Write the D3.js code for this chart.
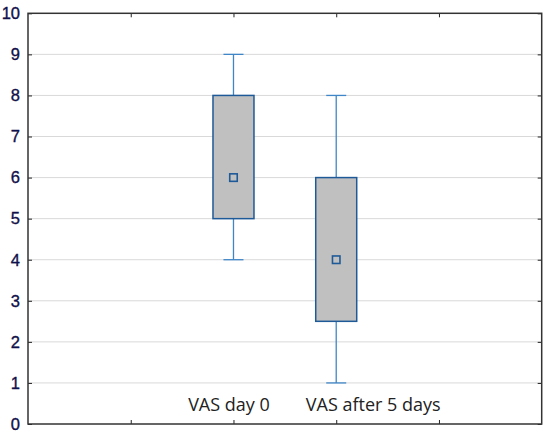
<!DOCTYPE html>
<html><head><meta charset="utf-8">
<script src="https://cdn.jsdelivr.net/npm/d3@7"></script>
<style>body{margin:0;background:#fff}svg{display:block}</style>
</head><body>
<svg id="c" width="550" height="438"></svg>
<script>
const categories = ["VAS day 0", "VAS after 5 days"];
const whiskerLow = [4, 1];
const boxLow = [5, 2.5];
const medians = [6, 4];
const boxHigh = [8, 6];
const whiskerHigh = [9, 8];
const yTicks = [0,1,2,3,4,5,6,7,8,9,10];
const xTickSlots = [1,2,3,4];
const categorySlots = [2,3];

const svg = d3.select("#c");
const W = 550, H = 438;
const m = {left: 28, right: 8.3, top: 13.3, bottom: 14};
const x = d3.scaleLinear().domain([0,5]).range([m.left, W - m.right]);
const y = d3.scaleLinear().domain([0,10]).range([H - m.bottom, m.top]);

// gridlines
svg.append("g").selectAll("line").data(yTicks.slice(1, -1)).join("line")
  .attr("x1", x(0)).attr("x2", x(5))
  .attr("y1", d => y(d)).attr("y2", d => y(d))
  .attr("stroke", "#d9d9d9").attr("stroke-width", 1);

// axes (ticks inside)
const axL = svg.append("g").attr("transform", `translate(${x(0)},0)`)
  .call(d3.axisLeft(y).tickValues(yTicks).tickSizeInner(-4).tickSizeOuter(0).tickPadding(8));
axL.select(".domain").remove();
axL.selectAll("text").attr("font-family", "Liberation Sans, Arial, sans-serif")
  .attr("font-size", 16.5).attr("fill", "#10104a")
  .attr("stroke", "#10104a").attr("stroke-width", 0.35);
axL.selectAll("line").attr("stroke", "#222");

const axR = svg.append("g").attr("transform", `translate(${x(5)},0)`)
  .call(d3.axisRight(y).tickValues(yTicks).tickSizeInner(-4).tickSizeOuter(0).tickFormat(""));
axR.select(".domain").remove();
axR.selectAll("line").attr("stroke", "#222");

const axB = svg.append("g").attr("transform", `translate(0,${y(0)})`)
  .call(d3.axisBottom(x).tickValues(xTickSlots).tickSizeInner(-4).tickSizeOuter(0).tickFormat(""));
axB.select(".domain").remove();
axB.selectAll("line").attr("stroke", "#222");
const axT = svg.append("g").attr("transform", `translate(0,${y(10)})`)
  .call(d3.axisTop(x).tickValues(xTickSlots).tickSizeInner(-4).tickSizeOuter(0).tickFormat(""));
axT.select(".domain").remove();
axT.selectAll("line").attr("stroke", "#222");

// frame
svg.append("rect").attr("x", x(0)).attr("y", y(10))
  .attr("width", x(5) - x(0)).attr("height", y(0) - y(10))
  .attr("fill", "none").attr("stroke", "#333").attr("stroke-width", 1.5);

const boxW = 41, capW = 20, mk = 7.5;
const whiskerColor = "#3f86c8", boxStroke = "#1f5a98";
const g = svg.append("g");
categories.forEach((c, i) => {
  const cx = x(categorySlots[i]);
  g.append("line").attr("x1", cx).attr("x2", cx).attr("y1", y(whiskerHigh[i])).attr("y2", y(boxHigh[i]))
    .attr("stroke", whiskerColor).attr("stroke-width", 1.3);
  g.append("line").attr("x1", cx).attr("x2", cx).attr("y1", y(boxLow[i])).attr("y2", y(whiskerLow[i]))
    .attr("stroke", whiskerColor).attr("stroke-width", 1.3);
  [whiskerHigh[i], whiskerLow[i]].forEach(v => {
    g.append("line").attr("x1", cx - capW/2).attr("x2", cx + capW/2).attr("y1", y(v)).attr("y2", y(v))
      .attr("stroke", whiskerColor).attr("stroke-width", 1.3);
  });
  g.append("rect").attr("x", cx - boxW/2).attr("y", y(boxHigh[i]))
    .attr("width", boxW).attr("height", y(boxLow[i]) - y(boxHigh[i]))
    .attr("fill", "#c0c0c0").attr("stroke", boxStroke).attr("stroke-width", 1.5);
  g.append("rect").attr("x", cx - mk/2).attr("y", y(medians[i]) - mk/2)
    .attr("width", mk).attr("height", mk)
    .attr("fill", "#c0c0c0").attr("stroke", boxStroke).attr("stroke-width", 1.6);
});

// category labels
const lab = svg.append("g").attr("font-family", "Open Sans, Noto Sans, sans-serif")
  .attr("font-size", 18).attr("fill", "#222");
const t1 = lab.append("text").attr("x", x(categorySlots[0]) - 4.5).attr("y", y(0) - 13)
  .attr("text-anchor", "middle").text(categories[0]);
const w1 = t1.node().getComputedTextLength();
lab.append("text").attr("x", x(categorySlots[0]) - 4.5 + w1/2 + 36).attr("y", y(0) - 13)
  .attr("text-anchor", "start").text(categories[1]);
</script>
</body></html>
